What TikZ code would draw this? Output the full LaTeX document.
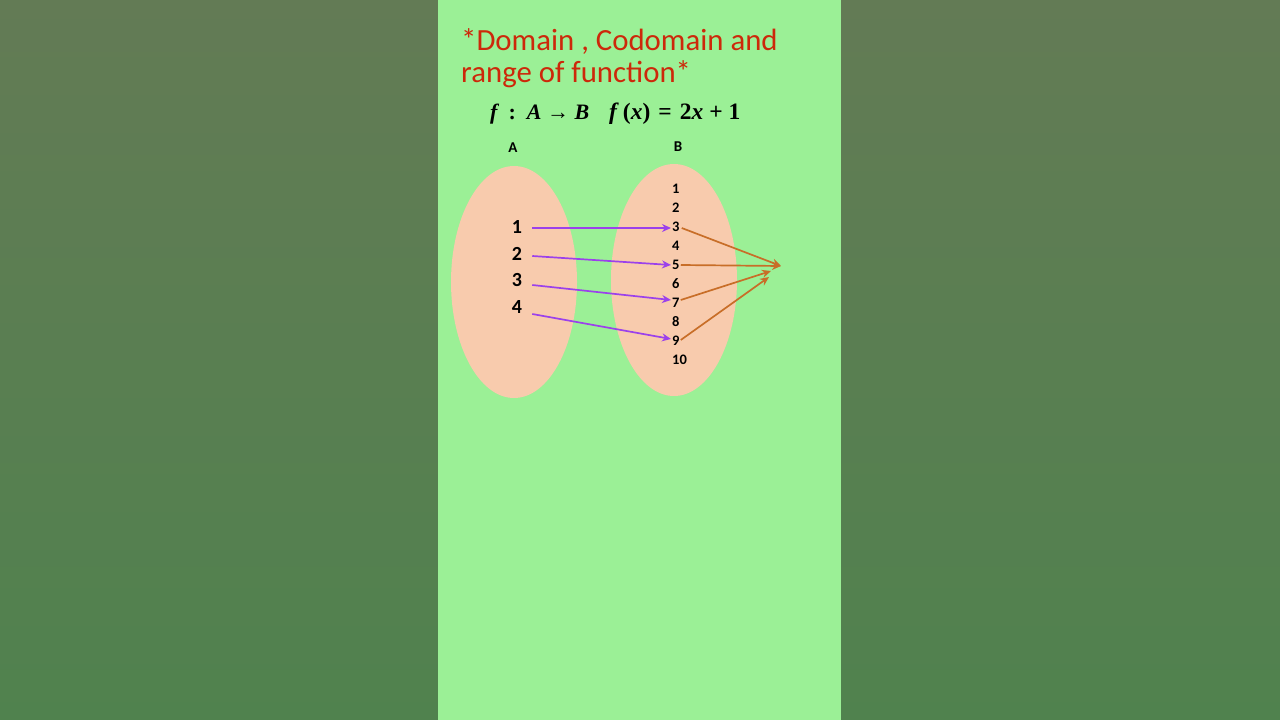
\documentclass[tikz,border=0pt]{standalone}
\usepackage{fontspec}
\setmainfont{Carlito}
\newfontfamily\mfont{Liberation Serif}
\usetikzlibrary{arrows.meta,shapes.geometric}
\definecolor{sidegtop}{RGB}{99,123,85}
\definecolor{sidegbot}{RGB}{80,130,78}
\definecolor{panel}{RGB}{155,240,150}
\definecolor{peach}{RGB}{248,203,173}
\definecolor{titlered}{RGB}{205,40,10}
\definecolor{arrpurple}{RGB}{155,65,235}
\definecolor{arrorange}{RGB}{200,110,40}
\tikzset{
  titletext/.style={anchor=base west,inner sep=0pt,text=titlered,font=\fontsize{30.8}{36}\selectfont},
  formtext/.style={anchor=base west,inner sep=0pt,font=\mfont\bfseries\fontsize{22}{24}\selectfont},
  setlabel/.style={inner sep=0pt,font=\bfseries\fontsize{15}{18}\selectfont},
  setshape/.style={ellipse,fill=peach,inner sep=0pt,minimum width=126pt,minimum height=232pt},
  leftnum/.style={inner sep=1pt,font=\bfseries\fontsize{20}{22}\selectfont},
  rightnum/.style={anchor=west,inner sep=1pt,font=\bfseries\fontsize{14.5}{16}\selectfont},
  maparrow/.style={draw=arrpurple,line width=1.7pt,-{Stealth[length=9pt,width=8pt]}},
  rangearrow/.style={draw=arrorange,line width=1.7pt,-{Stealth[length=9pt,width=8pt]}}
}
\begin{document}
\begin{tikzpicture}[x=1pt,y=-1pt]
\useasboundingbox (0,0) rectangle (1280,720);
\shade[top color=sidegtop,bottom color=sidegbot] (0,0) rectangle (438,720);
\shade[top color=sidegtop,bottom color=sidegbot] (841,0) rectangle (1280,720);
\fill[panel] (438,0) rectangle (841,720);

\node[titletext] (t1) at (461,50) {*Domain , Codomain and};
\node[titletext] (t2) at (461,82) {range of function*};

\node[formtext] (m1) at (490,119) {\textit{f}\, : \,\textit{A} → \textit{B}};
\node[formtext,font=\mfont\bfseries\fontsize{23.5}{26}\selectfont] (m2) at (609,119) {\textit{f}\hspace{4pt}(\textit{x})\hspace{8pt}=\hspace{8pt}2\textit{x}\hspace{6pt}+\hspace{6pt}1};

\node[setlabel] (la) at (513,148) {A};
\node[setlabel] (lb) at (678,147) {B};

\node[setshape] (setA) at (514,282) {};
\node[setshape] (setB) at (674,280) {};

\node[leftnum] (a1) at (517,227) {1};
\node[leftnum] (a2) at (517,254) {2};
\node[leftnum] (a3) at (517,280) {3};
\node[leftnum] (a4) at (517,307) {4};

\foreach \i in {1,...,10} {
  \node[rightnum] (b\i) at (671,{189+19*(\i-1)}) {\i};
}

\coordinate (tip) at (781,266);
\coordinate (tip7) at (771,271);
\coordinate (tip9) at (769,277);

\draw[maparrow] ([xshift=9pt,yshift=-1pt]a1.east) -- ([yshift=-1pt]b3.west);
\draw[maparrow] ([xshift=9pt,yshift=-2pt]a2.east) -- (b5.west);
\draw[maparrow] ([xshift=9pt,yshift=-5pt]a3.east) -- ([yshift=3pt]b7.west);
\draw[maparrow] ([xshift=9pt,yshift=-7pt]a4.east) -- ([yshift=2pt]b9.west);

\draw[rangearrow] ([xshift=1pt,yshift=-1pt]b3.east) -- (tip);
\draw[rangearrow] (b5.east) -- (tip);
\draw[rangearrow] ([yshift=3pt]b7.east) -- (tip7);
\draw[rangearrow] ([yshift=1pt]b9.east) -- (tip9);
\end{tikzpicture}
\end{document}
